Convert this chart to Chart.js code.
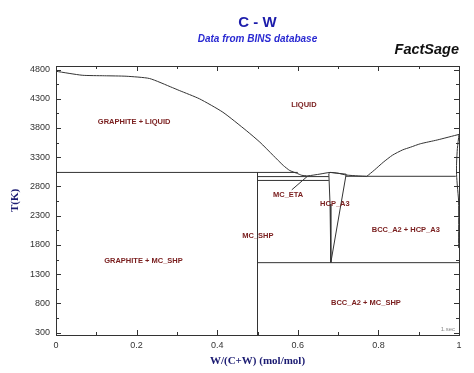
<!DOCTYPE html>
<html>
<head>
<meta charset="utf-8">
<title>C - W</title>
<script src="https://cdn.jsdelivr.net/npm/chart.js@4.4.1/dist/chart.umd.min.js"></script>
<style>
  html, body { margin: 0; padding: 0; background: #fff; }
  canvas { display: block; }
</style>
</head>
<body>
<canvas id="chart" width="474" height="373"></canvas>
<script>
// Phase boundaries: [W/(C+W), T(K)]
const liquidusC = [[0, 4770], [0.065, 4702], [0.12, 4693], [0.174, 4685], [0.232, 4646], [0.289, 4490],
    [0.306, 4441], [0.356, 4299], [0.414, 4070], [0.472, 3757], [0.506, 3557], [0.539, 3330], [0.564, 3159],
    [0.58, 3073], [0.597, 3027], [0.61, 2990]];
const liquidusMid = [[0.61, 2990], [0.625, 2982], [0.655, 3012], [0.68, 3040], [0.70, 3026], [0.72, 2996], [0.75, 2980], [0.771, 2972]];
const liquidusW = [[0.771, 2972], [0.79, 3080], [0.812, 3214], [0.835, 3335], [0.86, 3425], [0.88, 3472], [0.904, 3530],
    [0.946, 3595], [1.0, 3690]];
const solvusW = [[1.0, 3690], [0.996, 3450], [0.994, 3200], [0.994, 3000], [0.996, 2800], [0.999, 2550], [0.999, 1750]];
const hcpTop = [[0.677, 3020], [0.68, 3040], [0.72, 3010]];
const hcpLeft = [[0.677, 3020], [0.68, 2500], [0.682, 1500]];
const hcpRight = [[0.72, 3010], [0.682, 1500]];
const eutecticC = [[0, 3040], [0.6, 3040]];
const etaUpper = [[0.5, 2969], [0.677, 2969]];
const etaLower = [[0.5, 2903], [0.677, 2903]];
const eutecticW = [[0.719, 2974], [0.992, 2974]];
const eutectoid = [[0.5, 1497], [1.0, 1497]];
const wcLine = [[0.5, 3040], [0.5, 260]];
const etaPointer = [[0.585, 2742], [0.623, 2969]];

// Ticks
const xTickValues = [0, 0.2, 0.4, 0.6, 0.8, 1];
const xTickLabels = ['0', '0.2', '0.4', '0.6', '0.8', '1'];
const yTickValues = [300, 800, 1300, 1800, 2300, 2800, 3300, 3800, 4300, 4800];

// Region names: [text, W/(C+W), T(K)]
const regionLabels = [
    ['LIQUID', 0.615, 4200],
    ['GRAPHITE + LIQUID', 0.194, 3900],
    ['GRAPHITE + MC_SHP', 0.217, 1532],
    ['MC_ETA', 0.576, 2656],
    ['HCP_A3', 0.692, 2502],
    ['MC_SHP', 0.501, 1960],
    ['BCC_A2 + HCP_A3', 0.868, 2057],
    ['BCC_A2 + MC_SHP', 0.769, 808]
];

const boundaries = [liquidusC, liquidusMid, liquidusW, solvusW, hcpTop, hcpLeft, hcpRight, eutecticC,
    etaUpper, etaLower, eutecticW, eutectoid, wcLine, etaPointer];
const curved = [liquidusC, liquidusMid, liquidusW, solvusW];

const sans = "'Liberation Sans', Arial, sans-serif";
const serif = "'Liberation Serif', 'Times New Roman', serif";

// Frame, inward ticks and texts
const diagramDecor = {
    id: 'diagramDecor',
    afterDraw(chart) {
        const { ctx, chartArea: a, scales: { x, y } } = chart;
        ctx.save();
        ctx.strokeStyle = '#333';
        ctx.lineWidth = 1;
        ctx.strokeRect(a.left + 0.5, a.top + 0.5, a.right - a.left, a.bottom - a.top);

        ctx.beginPath();
        for (let i = 0; i <= 10; i++) {
            const px = Math.round(x.getPixelForValue(i / 10)) + 0.5;
            const len = i % 2 === 0 ? 5 : 3;
            ctx.moveTo(px, a.bottom); ctx.lineTo(px, a.bottom - len);
            ctx.moveTo(px, a.top); ctx.lineTo(px, a.top + len);
        }
        for (let v = 300; v <= 4800; v += 250) {
            const py = Math.round(y.getPixelForValue(v)) + 0.5;
            const len = (v - 300) % 500 === 0 ? 5 : 3;
            ctx.moveTo(a.left, py); ctx.lineTo(a.left + len, py);
            ctx.moveTo(a.right, py); ctx.lineTo(a.right - len, py);
        }
        ctx.stroke();

        const cx = (a.left + a.right) / 2;
        ctx.textAlign = 'center';
        ctx.textBaseline = 'middle';
        ctx.fillStyle = '#1c1cab';
        ctx.font = 'bold 15px ' + sans;
        ctx.fillText('C - W', cx, 23);
        ctx.fillStyle = '#2a2ad2';
        ctx.font = 'italic bold 10px ' + sans;
        ctx.fillText('Data from BINS database', cx, 39.5);
        ctx.textAlign = 'right';
        ctx.fillStyle = '#111';
        ctx.font = 'italic bold 14.5px ' + sans;
        ctx.fillText('FactSage', a.right, 50);

        ctx.textAlign = 'center';
        ctx.fillStyle = '#7b2020';
        ctx.font = 'bold 7.5px ' + sans;
        regionLabels.forEach(([text, lx, ly]) => {
            ctx.fillText(text, x.getPixelForValue(lx), y.getPixelForValue(ly));
        });

        ctx.textAlign = 'right';
        ctx.fillStyle = '#8a8a8a';
        ctx.font = '6px ' + sans;
        ctx.fillText('1.sec', a.right - 4, a.bottom - 6);
        ctx.restore();
    }
};

new Chart(document.getElementById('chart'), {
    type: 'scatter',
    data: {
        datasets: boundaries.map(points => ({
            data: points.map(([px, py]) => ({ x: px, y: py })),
            showLine: true,
            borderColor: '#333',
            borderWidth: 1,
            pointRadius: 0,
            pointHoverRadius: 0,
            tension: curved.includes(points) ? 0.2 : 0
        }))
    },
    options: {
        responsive: false,
        animation: false,
        events: [],
        layout: { padding: { left: 0, top: 66, right: 15, bottom: 0 } },
        plugins: {
            legend: { display: false },
            tooltip: { enabled: false }
        },
        scales: {
            x: {
                type: 'linear',
                min: 0,
                max: 1,
                grid: { display: false, drawTicks: false },
                border: { display: false },
                afterBuildTicks: scale => { scale.ticks = xTickValues.map(v => ({ value: v })); },
                afterFit: scale => { scale.height = 38; },
                ticks: {
                    callback: (value, index) => xTickLabels[index],
                    autoSkip: false,
                    maxRotation: 0,
                    padding: 5,
                    color: '#333',
                    font: { family: sans, size: 9 }
                },
                title: {
                    display: true,
                    text: 'W/(C+W) (mol/mol)',
                    color: '#1b1b72',
                    font: { family: serif, size: 11, weight: 'bold' },
                    padding: { top: 0, bottom: 5 }
                }
            },
            y: {
                type: 'linear',
                min: 260,
                max: 4860,
                grid: { display: false, drawTicks: false },
                border: { display: false },
                afterBuildTicks: scale => { scale.ticks = yTickValues.map(v => ({ value: v })); },
                afterFit: scale => { scale.width = 56; },
                ticks: {
                    callback: value => String(value),
                    autoSkip: false,
                    padding: 6,
                    color: '#333',
                    font: { family: sans, size: 9 }
                },
                title: {
                    display: true,
                    text: 'T(K)',
                    color: '#1b1b72',
                    font: { family: serif, size: 11, weight: 'bold' },
                    padding: { top: 9, bottom: 0 }
                }
            }
        }
    },
    plugins: [diagramDecor]
});
</script>
</body>
</html>
